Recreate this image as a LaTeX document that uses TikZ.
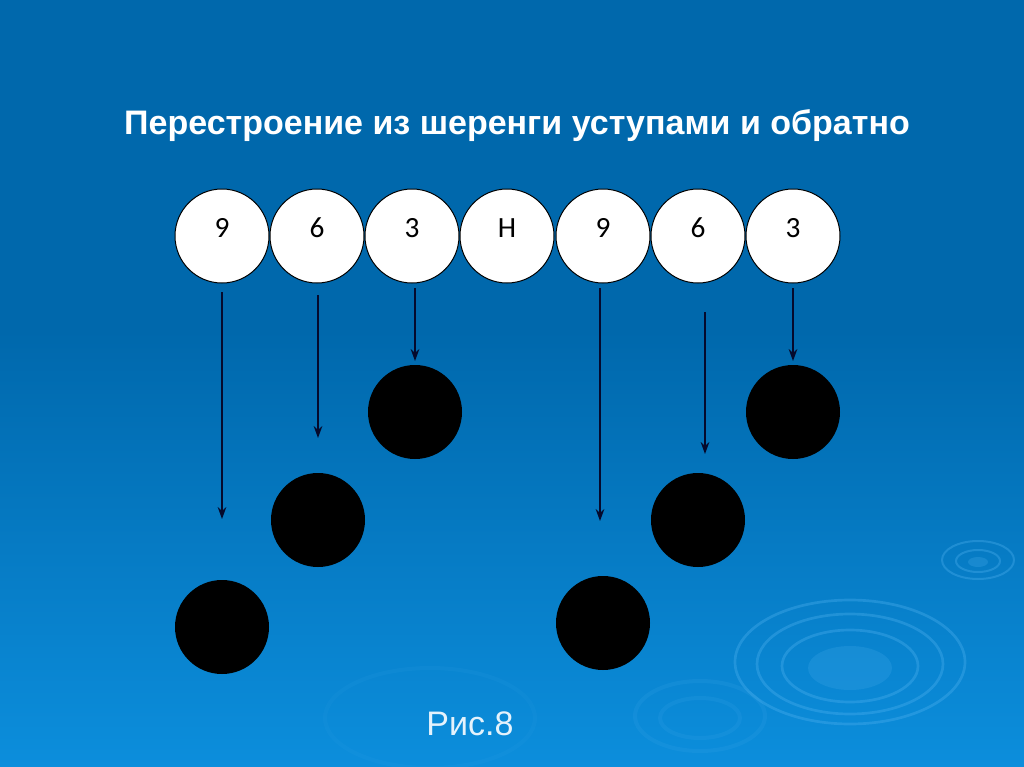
\documentclass[tikz,border=0pt]{standalone}
\usepackage{fontspec}
\setmainfont{Liberation Sans}
\newfontfamily\digitfont{Carlito}
\usetikzlibrary{arrows.meta}

\definecolor{bgtop}{RGB}{0,104,172}
\definecolor{bgbot}{RGB}{12,142,220}
\definecolor{ripple}{RGB}{80,178,240}
\definecolor{captioncol}{RGB}{228,242,252}
\definecolor{arrowcol}{RGB}{5,10,45}

\tikzset{every picture/.style={line width=0.75pt}}
\tikzset{
  rankcircle/.style={circle,draw=black,fill=white,line width=0.75pt,minimum size=70.5pt,inner sep=0pt,
    font=\digitfont\fontsize{22}{22}\selectfont,text height=14.2pt,text depth=12pt},
  stepcircle/.style={circle,fill=black,minimum size=70.5pt,inner sep=0pt},
  movearrow/.style={draw=arrowcol,line width=0.9pt,-{Stealth[length=9pt,width=6.5pt]}},
  ripplering/.style={draw=ripple,line width=2pt,opacity=0.35}
}

\begin{document}
\begin{tikzpicture}[x=0.75pt,y=0.75pt,yscale=-1,xscale=1]
\useasboundingbox (0,0) rectangle (1024,767);

%Background
\fill[bgtop] (0,0) rectangle (1024,331);
\shade[top color=bgtop,bottom color=bgbot] (0,330) rectangle (1024,767);

%Ripples
\draw[ripplering] (850,662) ellipse (115 and 62);
\draw[ripplering] (850,664) ellipse (93 and 50);
\draw[ripplering] (850,666) ellipse (68 and 36);
\fill[ripple,opacity=0.2] (850,668) ellipse (42 and 22);
\draw[ripplering,line width=1.5pt] (978,560) ellipse (36 and 19);
\draw[ripplering,line width=1.5pt] (978,561) ellipse (22 and 11);
\fill[ripple,opacity=0.25] (978,562) ellipse (10 and 5);
\draw[ripplering,opacity=0.12,line width=3pt] (700,716) ellipse (65 and 35);
\draw[ripplering,opacity=0.12,line width=3pt] (700,718) ellipse (40 and 20);
\draw[ripplering,opacity=0.07,line width=3pt] (430,718) ellipse (105 and 50);

% Text Node
\node (title) at (517,126) {\fontsize{25.5}{28}\selectfont\bfseries\color{white}Перестроение из шеренги уступами и обратно};

%Line of ranks
\node[rankcircle] (r1) at (222,236) {9};
\node[rankcircle] (r2) at (317,236) {6};
\node[rankcircle] (r3) at (412,236) {3};
\node[rankcircle] (r4) at (507,236) {Н};
\node[rankcircle] (r5) at (603,236) {9};
\node[rankcircle] (r6) at (698,236) {6};
\node[rankcircle] (r7) at (793,236) {3};

%Steps
\node[stepcircle] (s1) at (222,627) {};
\node[stepcircle] (s2) at (318,520) {};
\node[stepcircle] (s3) at (415,412) {};
\node[stepcircle] (s5) at (603,623) {};
\node[stepcircle] (s6) at (698,520) {};
\node[stepcircle] (s7) at (793,412) {};

%Arrows
\coordinate (a1s) at (222,292); \coordinate (a1e) at (222,519);
\coordinate (a2s) at (318,295); \coordinate (a2e) at (318,438);
\coordinate (a3s) at (415,288); \coordinate (a3e) at (415,361);
\coordinate (a5s) at (600,288); \coordinate (a5e) at (600,521);
\coordinate (a6s) at (705,312); \coordinate (a6e) at (705,454);
\coordinate (a7s) at (793,288); \coordinate (a7e) at (793,361);
\foreach \i in {1,2,3,5,6,7} {
  \draw[movearrow] (a\i s) -- (a\i e);
}

% Text Node
\node[text=captioncol] (caption) at (470,724) {\fontsize{25.5}{28}\selectfont Рис.8};

\end{tikzpicture}
\end{document}
